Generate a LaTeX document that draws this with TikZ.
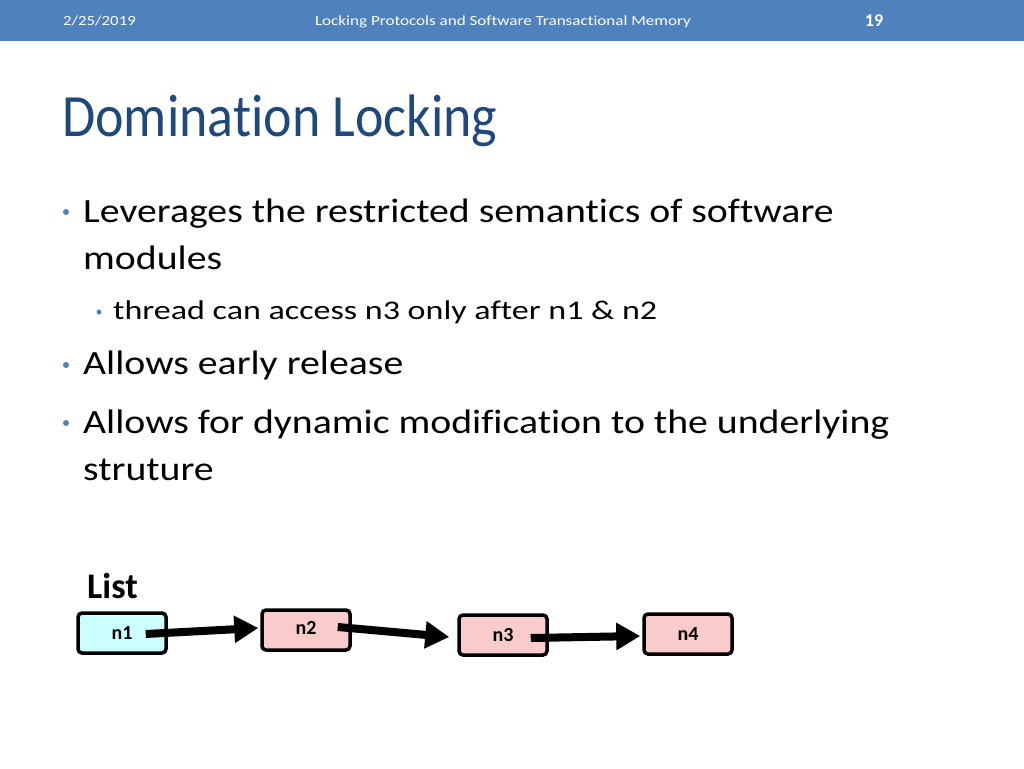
\documentclass[tikz,border=0pt]{standalone}
\usepackage{fontspec}
\setmainfont[Ligatures=NoCommon]{Carlito}
\usetikzlibrary{arrows.meta}
\definecolor{hdr}{HTML}{4F81BD}
\definecolor{ttl}{HTML}{1F497D}
\definecolor{nblue}{HTML}{CCFFFF}
\definecolor{npink}{HTML}{F9CBCB}
\definecolor{bul}{HTML}{4F81BD}
\begin{document}
\begin{tikzpicture}[x=1pt,y=-1pt,
  lnode/.style={draw=black,line width=3.5pt,rounded corners=4pt,minimum width=88pt,minimum height=40pt,inner sep=0pt,font=\fontsize{20}{24}\selectfont\bfseries},
  link/.style={line width=8pt,-{Triangle[length=24pt,width=26pt]}},
  btxt/.style={anchor=base west,inner sep=0pt,font=\fontsize{34}{40}\selectfont},
  stxt/.style={anchor=base west,inner sep=0pt,font=\fontsize{27}{32}\selectfont},
  bdot/.style={circle,fill=bul,inner sep=0pt,minimum size=#1}]
\useasboundingbox (0,0) rectangle (1024,768);
\fill[white] (0,0) rectangle (1024,768);
\fill[hdr] (0,0) rectangle (1024,41);
\node[anchor=base west,inner sep=0pt,text=white,font=\fontsize{14}{16}\selectfont] (date) at (63,26) {\scalebox{1.2}[1]{2/25/2019}};
\node[anchor=base,inner sep=0pt,text=white,font=\fontsize{14}{16}\selectfont] (foot) at (503,26) {\scalebox{1.22}[1]{Locking Protocols and Software Transactional Memory}};
\node[anchor=base,inner sep=0pt,text=white,font=\fontsize{18}{20}\selectfont\bfseries] (pg) at (874,27) {19};
\node[anchor=base west,inner sep=0pt,text=ttl,font=\fontsize{60}{70}\selectfont] (title) at (62,136) {\scalebox{0.9}[1]{Domination Locking}};
\node[bdot=6pt] (b1) at (66,212) {};
\node[btxt] (t1) at (83,222) {\scalebox{1.17}[1]{Leverages the restricted semantics of software}};
\node[btxt] (t1b) at (83,269) {\scalebox{1.17}[1]{modules}};
\node[bdot=5pt] (b2) at (99,312) {};
\node[stxt] (t2) at (113,319) {\scalebox{1.26}[1]{thread can access n3 only after n1 \& n2}};
\node[bdot=6pt] (b3) at (66,365) {};
\node[btxt] (t3) at (83,374) {\scalebox{1.17}[1]{Allows early release}};
\node[bdot=6pt] (b4) at (66,423) {};
\node[btxt] (t4) at (83,433) {\scalebox{1.17}[1]{Allows for dynamic modification to the underlying}};
\node[btxt] (t4b) at (83,480) {\scalebox{1.17}[1]{struture}};
\node[anchor=base west,inner sep=0pt,font=\fontsize{36}{40}\selectfont\bfseries] (list) at (87,598) {List};
\node[lnode,fill=nblue] (n1) at (122,633) {n1};
\node[lnode,fill=npink] (n2) at (306,630) {\raisebox{4pt}{n2}};
\node[lnode,fill=npink] (n3) at (503,635) {n3};
\node[lnode,fill=npink] (n4) at (688,634) {n4};
\draw[link] ([xshift=-22pt,yshift=-1pt]n1.east) -- ([xshift=-2pt,yshift=2pt]n2.west);
\draw[link] ([xshift=-14pt,yshift=3pt]n2.east) -- ([xshift=-8pt,yshift=-2pt]n3.west);
\draw[link] ([xshift=-18pt,yshift=-3pt]n3.east) -- ([xshift=-2pt,yshift=-2pt]n4.west);
\end{tikzpicture}
\end{document}
